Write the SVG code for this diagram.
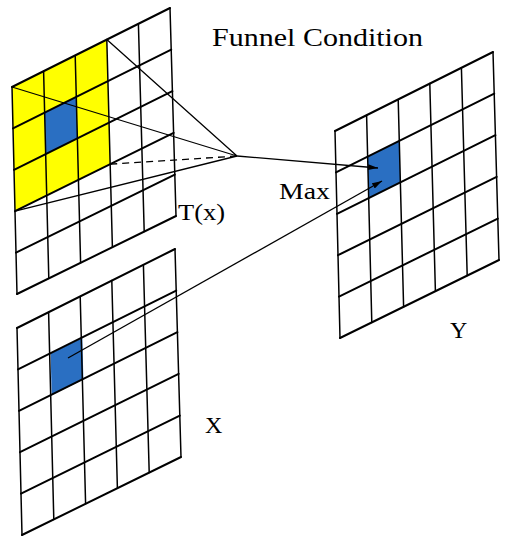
<svg xmlns="http://www.w3.org/2000/svg" xmlns:xlink="http://www.w3.org/1999/xlink" width="510" height="550" viewBox="0 0 510 550">
<style>
.h{stroke:#000;stroke-width:2;fill:none;stroke-linecap:round}
.v{stroke:#000;stroke-width:1.5;fill:none;stroke-linecap:round}
.ln{stroke:#000;stroke-width:1.3;fill:none}
.blue{fill:#2a6fc2}
.yel{fill:#ffff00}
.lbl{font-family:"Liberation Serif","DejaVu Serif",serif;fill:#000}
</style>
<defs>
<g id="grid">
<path class="v" d="M0,0L5,207M31.6,-15.8L36.8,191.4M63.2,-31.6L68.6,175.8M94.8,-47.4L100.4,160.2M126.4,-63.2L132.2,144.6M158,-79L164,129"/>
<path class="h" d="M0,0L158,-79M1,41.4L159.2,-37.4M2,82.8L160.4,4.2M3,124.2L161.6,45.8M4,165.6L162.8,87.6M5,207L164,129"/>
</g>
<marker id="ah" viewBox="0 0 10 6" refX="10" refY="3" markerWidth="10" markerHeight="6" markerUnits="userSpaceOnUse" orient="auto">
<path d="M0,0L10,3L0,6z" fill="#000"/>
</marker>
</defs>
<g id="grid-tx">
<path class="yel" d="M12,87L106.8,39.6L110.2,164.2L15,211.2z"/>
<path class="blue" d="M44.6,112.6L76.3,96.9L77.4,138.4L45.7,154.1z"/>
<use xlink:href="#grid" transform="translate(12,87)"/>
</g>
<g id="grid-y">
<path class="blue" d="M367.6,156.6L399.3,140.9L400.4,182.4L368.7,198.1z"/>
<use xlink:href="#grid" transform="translate(335,131)"/>
</g>
<g id="grid-x">
<path class="blue" d="M50.6,353.6L82.3,337.9L83.4,379.4L51.7,395.1z"/>
<use xlink:href="#grid" transform="translate(17,328)"/>
</g>
<g id="connectors">
<path class="ln" d="M12,87L237,156M106.8,39.6L237,156M15,211.2L237,156"/>
<path class="ln" d="M110.2,164.2L237,156" stroke-dasharray="7,5"/>
<path class="ln" d="M237,156L378,168" marker-end="url(#ah)"/>
<path class="ln" d="M68,358L382,181" marker-end="url(#ah)"/>
</g>
<g id="labels">
<text class="lbl" x="212" y="46" font-size="26" textLength="211" lengthAdjust="spacingAndGlyphs">Funnel Condition</text>
<text class="lbl" x="178" y="220" font-size="24" textLength="47" lengthAdjust="spacingAndGlyphs">T(x)</text>
<text class="lbl" x="279" y="199" font-size="24" textLength="51" lengthAdjust="spacingAndGlyphs">Max</text>
<text class="lbl" x="450" y="338" font-size="24">Y</text>
<text class="lbl" x="205" y="433" font-size="24">X</text>
</g>
</svg>
